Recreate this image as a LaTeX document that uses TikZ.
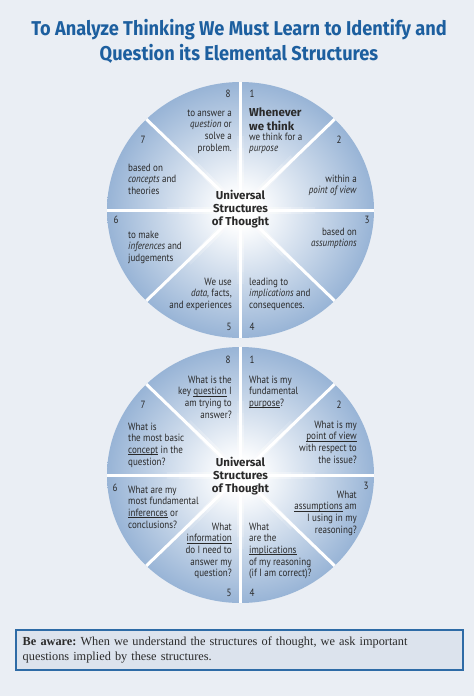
\documentclass[tikz,border=0pt]{standalone}
\usepackage{fontspec}
\setmainfont{Liberation Serif}
\newfontfamily\condfont[FakeStretch=0.86]{PT Sans}
\newfontfamily\sansfont{Fira Sans}
\newfontfamily\titlefont[FakeStretch=0.91]{Fira Sans}
\definecolor{bg}{HTML}{EAEEF4}
\definecolor{wheelblue}{HTML}{98B4D6}
\definecolor{titleblue}{HTML}{1D5F9F}
\definecolor{txt}{HTML}{2A2A2A}
\definecolor{boxfill}{HTML}{DCE3ED}
\definecolor{boxline}{HTML}{2E6BA6}
\pgfdeclareradialshading{wheel}{\pgfpointorigin}{color(0bp)=(white); color(3bp)=(white); color(25bp)=(wheelblue); color(50bp)=(wheelblue)}
\newcommand\myul[1]{\leavevmode\setbox0\hbox{#1}\rlap{\rule[-1.4pt]{\wd0}{0.5pt}}\box0\relax}
\begin{document}
\begin{tikzpicture}[x=1pt,y=-1pt,
  seg/.style={font=\condfont\fontsize{10.5}{11.6}\selectfont, text=txt, inner sep=0pt},
  rseg/.style={seg, align=right, anchor=north east},
  lseg/.style={seg, align=left, anchor=north west},
  num/.style={font=\condfont\fontsize{10.5}{12}\selectfont, text=txt, inner sep=0pt},
  hub/.style={font=\sansfont\bfseries\fontsize{11.5}{13}\selectfont, text=txt, inner sep=0pt, align=center, anchor=north},
  divider/.style={white, line width=3pt},
  glow/.style={white, line width=7pt, opacity=0.13},
  wheelfill/.style={shading=wheel}
]
\useasboundingbox (0,0) rectangle (474,696);
\fill[bg] (0,0) rectangle (474,696);

% title
\node (title) [font=\titlefont\bfseries\fontsize{20}{25}\selectfont, text=titleblue, align=center, anchor=north, inner sep=0pt]
  at (239,17.5) {\strut To Analyze Thinking We Must Learn to Identify and\\Question its Elemental Structures};

% wheels
\foreach \cy/\nm in {210/wa, 475/wb}{
  \coordinate (\nm) at (240.5,\cy);
  \shade[wheelfill] (\nm) ellipse [x radius=133.5, y radius=128];
  \begin{scope}
    \clip (\nm) ellipse [x radius=133.5, y radius=128];
    \foreach \a in {0,45,...,315}{
      \foreach \r in {14,26,38,50,62,74}
        \draw[glow] (\nm) -- ++(\a:\r);
      \draw[divider] (\nm) -- ++(\a:140 and 135);
    }
  \end{scope}
}

% ---- top wheel ----
\node (a8) [num] at (228,94) {8};
\node (a1) [num] at (252,94) {1};
\node (a7) [num] at (143,140) {7};
\node (a2) [num] at (339,140) {2};
\node (a6) [num] at (116,220) {6};
\node (a3) [num] at (367,220) {3};
\node (a5) [num] at (229,327) {5};
\node (a4) [num] at (252,327) {4};

\node (ta8) [rseg] at (232,108) {\strut to answer a\\\textit{question} or\\solve a\\problem.};
\node (ta1h) [lseg, font=\sansfont\bfseries\fontsize{11.5}{12}\selectfont] at (249,108) {\strut Whenever\\we think};
\node (ta1) [lseg] at (249,132) {\strut we think for a\\\textit{purpose}};
\node (ta7) [lseg] at (128,163) {\strut based on\\\textit{concepts} and\\theories};
\node (ta2) [rseg] at (357,174) {\strut within a\\\textit{point of view}};
\node (ta6) [lseg] at (128,230) {\strut to make\\\textit{inferences} and\\judgements};
\node (ta3) [rseg] at (357,227) {\strut based on\\\textit{assumptions}};
\node (ta5) [rseg] at (232,277) {\strut We use\\\textit{data,} facts,\\and experiences};
\node (ta4) [lseg] at (249,277) {\strut leading to\\\textit{implications} and\\consequences.};
\node (hubA) [hub] at (240.5,190.4) {\strut Universal\\Structures\\of Thought};

% ---- bottom wheel ----
\node (b8) [num] at (228,360) {8};
\node (b1) [num] at (252,360) {1};
\node (b7) [num] at (143,405) {7};
\node (b2) [num] at (339,405) {2};
\node (b6) [num] at (115,488) {6};
\node (b3) [num] at (366,486) {3};
\node (b5) [num] at (229,593) {5};
\node (b4) [num] at (252,593) {4};

\node (tb8) [rseg] at (232,375) {\strut What is the\\key \myul{question} I\\am trying to\\answer?};
\node (tb1) [lseg] at (249,375) {\strut What is my\\fundamental\\\myul{purpose}?};
\node (tb7) [lseg] at (128,422) {\strut What is\\the most basic\\\myul{concept} in the\\question?};
\node (tb2) [rseg] at (357,420) {\strut What is my\\\myul{point of view}\\with respect to\\the issue?};
\node (hubB) [hub] at (240.5,457.4) {\strut Universal\\Structures\\of Thought};
\node (tb6) [lseg] at (128,485) {\strut What are my\\most fundamental\\\myul{inferences} or\\conclusions?};
\node (tb3) [rseg] at (357,490) {\strut What\\\myul{assumptions} am\\I using in my\\reasoning?};
\node (tb5) [rseg] at (232,522) {\strut What\\\myul{information}\\do I need to\\answer my\\question?};
\node (tb4) [lseg] at (249,522) {\strut What\\are the\\\myul{implications}\\of my reasoning\\(if I am correct)?};

% ---- note box ----
\node (aware) [draw=boxline, line width=1.5pt, fill=boxfill, anchor=north west,
  minimum width=447pt, minimum height=40pt, text width=433pt, inner xsep=7pt, inner ysep=0pt,
  align=left, text=txt, font=\fontsize{12.3}{15}\selectfont\frenchspacing]
  at (15,629) {\textbf{Be aware:} When we understand the structures of thought, we ask important\\questions implied by these structures.};
\end{tikzpicture}
\end{document}
